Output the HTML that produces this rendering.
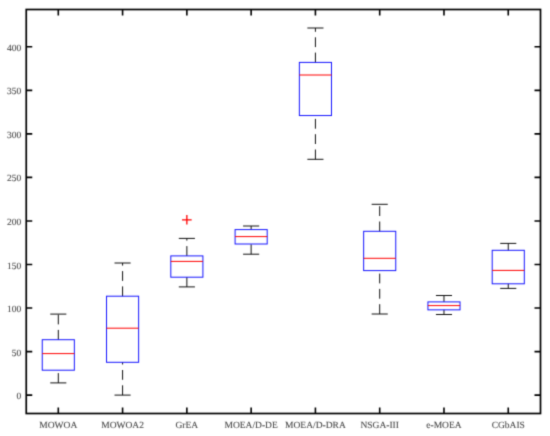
<!DOCTYPE html><html><head><meta charset="utf-8"><style>html,body{margin:0;padding:0;background:#fff;width:550px;height:436px;overflow:hidden}svg{display:block}text{text-rendering:geometricPrecision;font-family:"Liberation Serif","Times New Roman",serif;font-size:9.5px;fill:#4a4a4a;stroke:#4a4a4a;stroke-width:0.1px}</style></head><body>
<svg width="550" height="436" viewBox="0 0 550 436">
<defs><filter id="b" x="0" y="0" width="550" height="436" filterUnits="userSpaceOnUse" color-interpolation-filters="sRGB"><feConvolveMatrix order="3" kernelMatrix="0.0225 0.1050 0.0225 0.1050 0.4900 0.1050 0.0225 0.1050 0.0225" edgeMode="duplicate"/></filter></defs><g filter="url(#b)">
<rect width="550" height="436" fill="#fff"/>
<path d="M58.3 339.7V314.1M58.3 382.9V370.2" stroke="#101010" stroke-width="1" stroke-dasharray="9.8 5.5" fill="none"/>
<path d="M50.25 314.1H66.35M50.25 382.9H66.35" stroke="#101010" stroke-width="1" fill="none"/>
<rect x="42.25" y="339.7" width="32.1" height="30.5" stroke="#1414ff" stroke-width="1" fill="none"/>
<path d="M42.25 353.6H74.35" stroke="#ff0000" stroke-width="1"/>
<path d="M122.58 296.2V263M122.58 395.1V362.3" stroke="#101010" stroke-width="1" stroke-dasharray="9.8 5.5" fill="none"/>
<path d="M114.53 263H130.63M114.53 395.1H130.63" stroke="#101010" stroke-width="1" fill="none"/>
<rect x="106.53" y="296.2" width="32.1" height="66.1" stroke="#1414ff" stroke-width="1" fill="none"/>
<path d="M106.53 328.2H138.63" stroke="#ff0000" stroke-width="1"/>
<path d="M186.86 255.9V238.4M186.86 286.9V277.2" stroke="#101010" stroke-width="1" stroke-dasharray="9.8 5.5" fill="none"/>
<path d="M178.81 238.4H194.91M178.81 286.9H194.91" stroke="#101010" stroke-width="1" fill="none"/>
<rect x="170.81" y="255.9" width="32.1" height="21.3" stroke="#1414ff" stroke-width="1" fill="none"/>
<path d="M170.81 261.4H202.91" stroke="#ff0000" stroke-width="1"/>
<path d="M251.14 229.6V226M251.14 254.2V244" stroke="#101010" stroke-width="1" stroke-dasharray="9.8 5.5" fill="none"/>
<path d="M243.09 226H259.19M243.09 254.2H259.19" stroke="#101010" stroke-width="1" fill="none"/>
<rect x="235.09" y="229.6" width="32.1" height="14.4" stroke="#1414ff" stroke-width="1" fill="none"/>
<path d="M235.09 236.6H267.19" stroke="#ff0000" stroke-width="1"/>
<path d="M315.42 62.4V28M315.42 159.3V115.55" stroke="#101010" stroke-width="1" stroke-dasharray="9.8 5.5" fill="none"/>
<path d="M307.37 28H323.47M307.37 159.3H323.47" stroke="#101010" stroke-width="1" fill="none"/>
<rect x="299.37" y="62.4" width="32.1" height="53.15" stroke="#1414ff" stroke-width="1" fill="none"/>
<path d="M299.37 75H331.47" stroke="#ff0000" stroke-width="1"/>
<path d="M379.7 231.3V204.3M379.7 314V270.6" stroke="#101010" stroke-width="1" stroke-dasharray="9.8 5.5" fill="none"/>
<path d="M371.65 204.3H387.75M371.65 314H387.75" stroke="#101010" stroke-width="1" fill="none"/>
<rect x="363.65" y="231.3" width="32.1" height="39.3" stroke="#1414ff" stroke-width="1" fill="none"/>
<path d="M363.65 258.3H395.75" stroke="#ff0000" stroke-width="1"/>
<path d="M443.98 301.9V295.5M443.98 314.5V309.85" stroke="#101010" stroke-width="1" stroke-dasharray="9.8 5.5" fill="none"/>
<path d="M435.93 295.5H452.03M435.93 314.5H452.03" stroke="#101010" stroke-width="1" fill="none"/>
<rect x="427.93" y="301.9" width="32.1" height="7.95" stroke="#1414ff" stroke-width="1" fill="none"/>
<path d="M427.93 305.6H460.03" stroke="#ff0000" stroke-width="1"/>
<path d="M508.26 250.3V243.4M508.26 288.4V283.8" stroke="#101010" stroke-width="1" stroke-dasharray="9.8 5.5" fill="none"/>
<path d="M500.21 243.4H516.31M500.21 288.4H516.31" stroke="#101010" stroke-width="1" fill="none"/>
<rect x="492.21" y="250.3" width="32.1" height="33.5" stroke="#1414ff" stroke-width="1" fill="none"/>
<path d="M492.21 270.4H524.31" stroke="#ff0000" stroke-width="1"/>
<path d="M182.06 219.8H191.66M186.86 215V224.6" stroke="#ff0000" stroke-width="1.3"/>
<path d="M26.25 395.15H32.25M540.5 395.15H534.5M26.25 351.6H32.25M540.5 351.6H534.5M26.25 308.06H32.25M540.5 308.06H534.5M26.25 264.51H32.25M540.5 264.51H534.5M26.25 220.97H32.25M540.5 220.97H534.5M26.25 177.42H32.25M540.5 177.42H534.5M26.25 133.88H32.25M540.5 133.88H534.5M26.25 90.33H32.25M540.5 90.33H534.5M26.25 46.79H32.25M540.5 46.79H534.5M58.3 413.5V407.5M58.3 9.5V15.5M122.58 413.5V407.5M122.58 9.5V15.5M186.86 413.5V407.5M186.86 9.5V15.5M251.14 413.5V407.5M251.14 9.5V15.5M315.42 413.5V407.5M315.42 9.5V15.5M379.7 413.5V407.5M379.7 9.5V15.5M443.98 413.5V407.5M443.98 9.5V15.5M508.26 413.5V407.5M508.26 9.5V15.5" stroke="#000000" stroke-width="1.6" fill="none"/>
<rect x="26.25" y="9.5" width="514.25" height="404" stroke="#000000" stroke-width="1.7" fill="none"/>
<text x="21.3" y="399.15" text-anchor="end">0</text>
<text x="21.3" y="355.6" text-anchor="end">50</text>
<text x="21.3" y="312.06" text-anchor="end">100</text>
<text x="21.3" y="268.51" text-anchor="end">150</text>
<text x="21.3" y="224.97" text-anchor="end">200</text>
<text x="21.3" y="181.42" text-anchor="end">250</text>
<text x="21.3" y="137.88" text-anchor="end">300</text>
<text x="21.3" y="94.33" text-anchor="end">350</text>
<text x="21.3" y="50.79" text-anchor="end">400</text>
<text x="58.3" y="428" text-anchor="middle">MOWOA</text>
<text x="122.58" y="428" text-anchor="middle">MOWOA2</text>
<text x="186.86" y="428" text-anchor="middle">GrEA</text>
<text x="251.14" y="428" text-anchor="middle">MOEA/D-DE</text>
<text x="315.42" y="428" text-anchor="middle">MOEA/D-DRA</text>
<text x="379.7" y="428" text-anchor="middle">NSGA-III</text>
<text x="443.98" y="428" text-anchor="middle">e-MOEA</text>
<text x="508.26" y="428" text-anchor="middle">CGbAIS</text>
</g>
</svg></body></html>
